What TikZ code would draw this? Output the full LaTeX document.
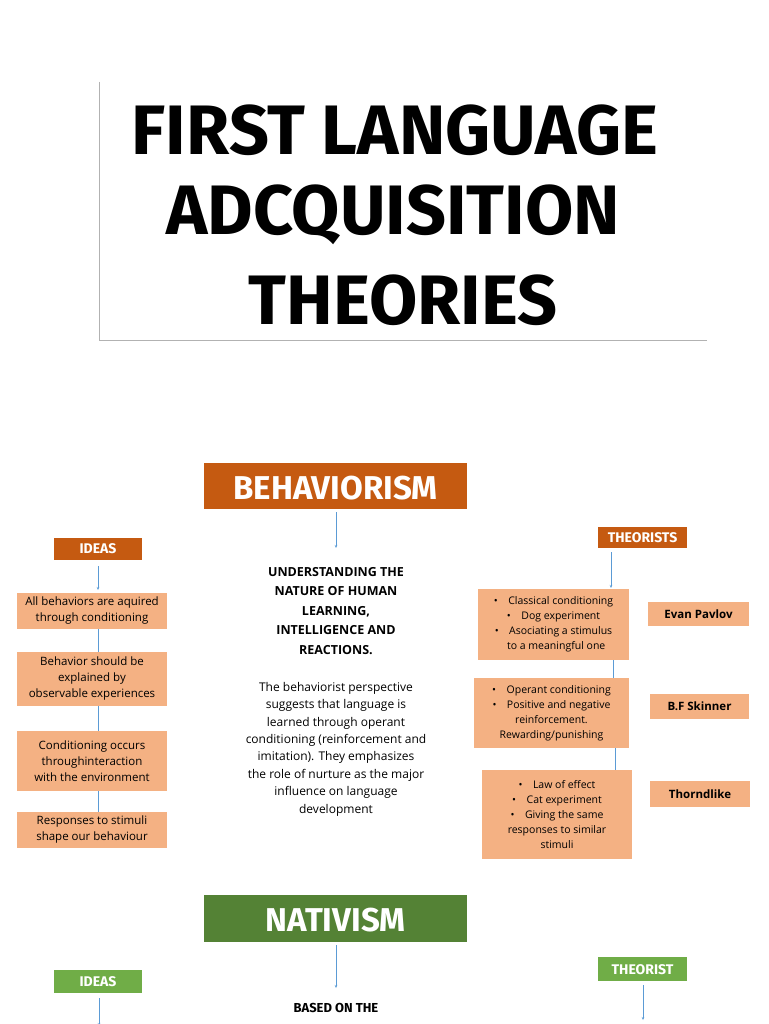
\documentclass[tikz,border=0pt]{standalone}
\usetikzlibrary{arrows.meta}
\usepackage{fontspec}
\setmainfont{Open Sans}
\newfontfamily\condf{Fira Sans}
\definecolor{borange}{HTML}{C55A11}
\definecolor{lorange}{HTML}{F4B183}
\definecolor{dgreen}{HTML}{548235}
\definecolor{lgreen}{HTML}{70AD47}
\definecolor{arr}{HTML}{5B9BD5}
\begin{document}
\begin{tikzpicture}[x=1pt,y=-1pt,
 boxa/.style={fill=lorange,draw=none,inner sep=0pt,align=center,font=\fontsize{11.5}{16}\selectfont},
 boxt/.style={fill=lorange,draw=none,inner sep=0pt,align=center,font=\fontsize{10.5}{15}\selectfont},
 nameb/.style={fill=lorange,draw=none,inner sep=0pt,font=\bfseries\fontsize{11.5}{13}\selectfont},
 headbox/.style={text=white,inner sep=0pt,font=\condf\bfseries\fontsize{14}{16}\selectfont},
 bighead/.style={text=white,inner sep=0pt,font=\condf\bfseries\fontsize{33}{36}\selectfont},
 arrline/.style={draw=arr,line width=0.5pt,-{Stealth[length=3pt,width=2.5pt]}},
 conn/.style={draw=arr,line width=0.6pt},
 titlef/.style={font=\condf\bfseries\fontsize{70}{72}\selectfont}]
\useasboundingbox (0,0) rectangle (768,1024);
\fill[white] (0,0) rectangle (768,1024);
% title
\draw[gray!60,line width=0.8pt] (99,82) -- (99,340) -- (707,340);
\node[titlef] (t1) at (395,130) {FIRST LANGUAGE};
\node[titlef] (t2) at (393,215) {ADCQUISITION};
\node[titlef] (t3) at (403,300) {THEORIES};
% behaviorism
\fill[borange] (204,463) rectangle (467,509);
\node[bighead] (beh) at (335.5,488) {BEHAVIORISM};
\coordinate (behb) at (336,512);
\fill[borange] (54,538) rectangle (142,560);
\node[headbox] (ideas) at (98,549) {IDEAS};
\fill[borange] (598,527) rectangle (687,548);
\node[headbox] (theo) at (642.5,538) {THEORISTS};
% ideas boxes
\node[boxa,minimum width=150pt,minimum height=36pt] (i1) at (92,611) {All behaviors are aquired\\through conditioning};
\node[boxa,minimum width=150pt,minimum height=54pt] (i2) at (92,679) {Behavior should be\\explained by\\observable experiences};
\node[boxa,minimum width=150pt,minimum height=60pt] (i3) at (92,761) {Conditioning occurs\\throughinteraction\\with the environment};
\node[boxa,minimum width=150pt,minimum height=36pt] (i4) at (92,830) {Responses to stimuli\\shape our behaviour};
\coordinate (ia) at (98,566);
\draw[arrline] (ia) -- (98,590);
\draw[conn] (98,629) -- (98,652);
\draw[conn] (98,706) -- (98,731);
\draw[conn] (98,791) -- (98,812);
% center text
\node (ct) at (336,611) [align=center,font=\bfseries\fontsize{12.5}{19.5}\selectfont] {UNDERSTANDING THE\\NATURE OF HUMAN\\LEARNING,\\INTELLIGENCE AND\\REACTIONS.};
\node (cb) at (336,749) [align=center,font=\fontsize{12}{17.4}\selectfont] {The behaviorist perspective\\suggests that language is\\learned through operant\\conditioning (reinforcement and\\imitation). They emphasizes\\the role of nurture as the major\\influence on language\\development};
\draw[arrline] (behb) -- (336,548);
% theorists
\node[boxt,minimum width=151pt,minimum height=71pt] (ta) at (553.5,624.5) {\textbullet\quad Classical conditioning\\\textbullet\quad Dog experiment\\\textbullet\quad Asociating a stimulus\\\ \ to a meaningful one};
\node[boxt,minimum width=155pt,minimum height=70pt] (tb) at (551.5,713) {\textbullet\quad Operant conditioning\\\textbullet\quad Positive and negative\\reinforcement.\\Rewarding/punishing};
\node[boxt,minimum width=150pt,minimum height=89pt] (tc) at (557,814.5) {\textbullet\quad Law of effect\\\textbullet\quad Cat experiment\\\textbullet\quad Giving the same\\responses to similar\\stimuli};
\node[nameb,minimum width=101pt,minimum height=24pt] (p1) at (698.5,614) {Evan Pavlov};
\node[nameb,minimum width=99pt,minimum height=25pt] (p2) at (699.5,706.5) {B.F Skinner};
\node[nameb,minimum width=100pt,minimum height=26pt] (p3) at (700,794) {Thorndlike};
\draw[arrline] (611,552) -- (611,588);
\draw[conn] (613,660) -- (613,678);
\draw[conn] (615,748) -- (615,770);
% nativism
\fill[dgreen] (204,895) rectangle (467,942);
\node[bighead] (nat) at (335.5,920) {NATIVISM};
\fill[lgreen] (54,970) rectangle (142,993);
\node[headbox] (ideas2) at (98,982) {IDEAS};
\fill[lgreen] (598,957) rectangle (687,981);
\node[headbox] (theo2) at (642.5,970) {THEORIST};
\draw[arrline] (336,945) -- (336,988);
\draw[arrline] (99,998) -- (99,1026);
\draw[arrline] (643,985) -- (643,1020);
\node (bt) at (336,1008) [font=\condf\bfseries\fontsize{13}{15}\selectfont] {BASED ON THE};
\end{tikzpicture}
\end{document}
